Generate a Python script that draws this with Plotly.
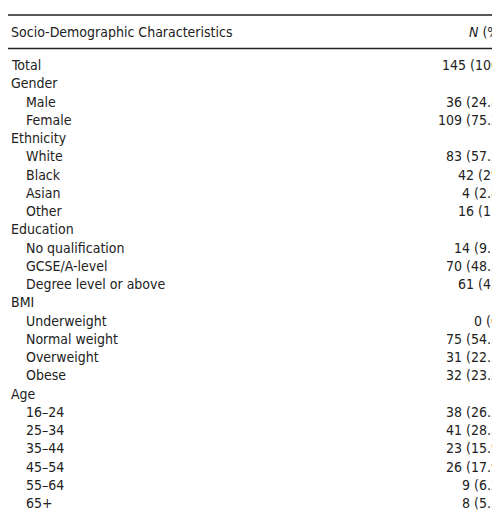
import plotly.graph_objects as go

# rows: (label, is_subcategory)
labels = ["Total", "Gender", "Male", "Female", "Ethnicity", "White", "Black", "Asian", "Other",
          "Education", "No qualification", "GCSE/A-level", "Degree level or above",
          "BMI", "Underweight", "Normal weight", "Overweight", "Obese",
          "Age", "16\u201324", "25\u201334", "35\u201344", "45\u201354", "55\u201364", "65+"]
indent = [0, 0, 1, 1, 0, 1, 1, 1, 1, 0, 1, 1, 1, 0, 1, 1, 1, 1, 0, 1, 1, 1, 1, 1, 1]
counts = [145, None, 36, 109, None, 83, 42, 4, 16, None, 14, 70, 61,
          None, 0, 75, 31, 32, None, 38, 41, 23, 26, 9, 8]
percents = [100, None, 24.8, 75.2, None, 57.2, 29, 2.8, 11, None, 9.7, 48.3, 42,
            None, 0, 54.3, 22.5, 23.2, None, 26.2, 28.3, 15.9, 17.9, 6.2, 5.5]

header_left = "Socio-Demographic Characteristics"
header_right = "<i>N</i> (%)"

row_y = [57 + i * 18.25 for i in range(len(labels))]
values = ["" if c is None else f"{c} ({p:g})" for c, p in zip(counts, percents)]

font = dict(family="Liberation Sans Narrow, DejaVu Sans Condensed, Liberation Sans", size=14, color="#222")

fig = go.Figure()
fig.add_trace(go.Scatter(x=[0, 500], y=[0, 532], mode="markers", marker=dict(opacity=0),
                         hoverinfo="skip"))

for lab, d, val, y in zip(labels, indent, values, row_y):
    fig.add_annotation(x=1 + 15 * d, y=y, text=lab, showarrow=False, xanchor="left",
                       yanchor="middle", font=font)
    if val:
        fig.add_annotation(x=498, y=y, text=val, showarrow=False, xanchor="right",
                           yanchor="middle", font=font)
fig.add_annotation(x=1, y=24, text=header_left, showarrow=False, xanchor="left",
                   yanchor="middle", font=font)
fig.add_annotation(x=498, y=24, text=header_right, showarrow=False, xanchor="right",
                   yanchor="middle", font=font)

for y in [7, 40.5, 528]:
    fig.add_shape(type="line", x0=0, x1=500, y0=y, y1=y, line=dict(color="#222", width=1.5))

fig.update_xaxes(range=[0, 500], visible=False)
fig.update_yaxes(range=[532, 0], visible=False)
fig.update_layout(width=500, height=532, margin=dict(l=0, r=0, t=0, b=0),
                  plot_bgcolor="white", paper_bgcolor="white", showlegend=False)
fig.write_html("out.html")
